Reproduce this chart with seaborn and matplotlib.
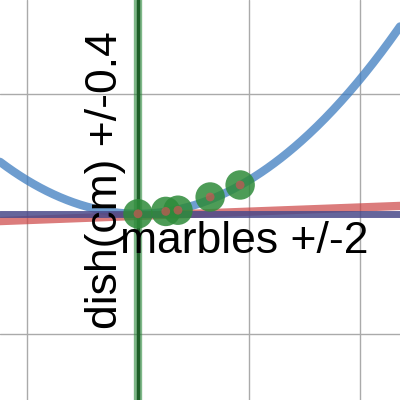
import matplotlib
matplotlib.use("Agg")
import matplotlib.pyplot as plt
import seaborn as sns
import numpy as np

marbles = [0, 2.5, 3.6, 6.5, 9.2]
dish = [0, 0.02, 0.03, 0.14, 0.24]
quad_coef = 0.0028
lin_slope, lin_icpt = 0.0035, -0.017
xlim = (-12.43, 23.6)
ylim = (-1.55, 1.78)

sns.set_theme(style="white")
plt.rcParams['font.family'] = ['Liberation Sans', 'DejaVu Sans']
fig = plt.figure(figsize=(4, 4), dpi=100)
ax = fig.add_axes([0, 0, 1, 1])
ax.set_xlim(*xlim); ax.set_ylim(*ylim)
ax.set_xticks([-10, 10, 20]); ax.set_yticks([-1, 1])
ax.grid(True, color="#aaaaaa", lw=1)
ax.tick_params(length=0, labelbottom=False, labelleft=False)
for s in ax.spines.values():
    s.set_visible(False)

xs = np.linspace(*xlim, 300)
sns.lineplot(x=xs, y=quad_coef * xs**2, ax=ax, color="#3d7cc0", lw=6, alpha=0.75)
sns.lineplot(x=xs, y=lin_slope * xs + lin_icpt, ax=ax, color="#cc4444", lw=6, alpha=0.7)
ax.axhline(0, color="#4a4a8a", lw=5, alpha=0.85)
ax.axvline(0, color="#2a8a3a", lw=6, alpha=0.6)
ax.axvline(0, color="#1e5e28", lw=2.5)
sns.scatterplot(x=marbles, y=dish, ax=ax, s=450, color="#2e8b3a", alpha=0.85, edgecolor="none", zorder=5)
sns.scatterplot(x=marbles, y=dish, ax=ax, s=40, color="#cc5555", alpha=0.7, edgecolor="none", zorder=6)

ax.text(-1.6, -0.06, "marbles +/-2", fontsize=32, color="black", ha="left", va="top", zorder=7)
ax.text(-2.95, 0.28, "dish(cm) +/-0.4", fontsize=32, color="black", rotation=90, ha="center", va="center", zorder=7)
fig.savefig("out.png", dpi=100)
